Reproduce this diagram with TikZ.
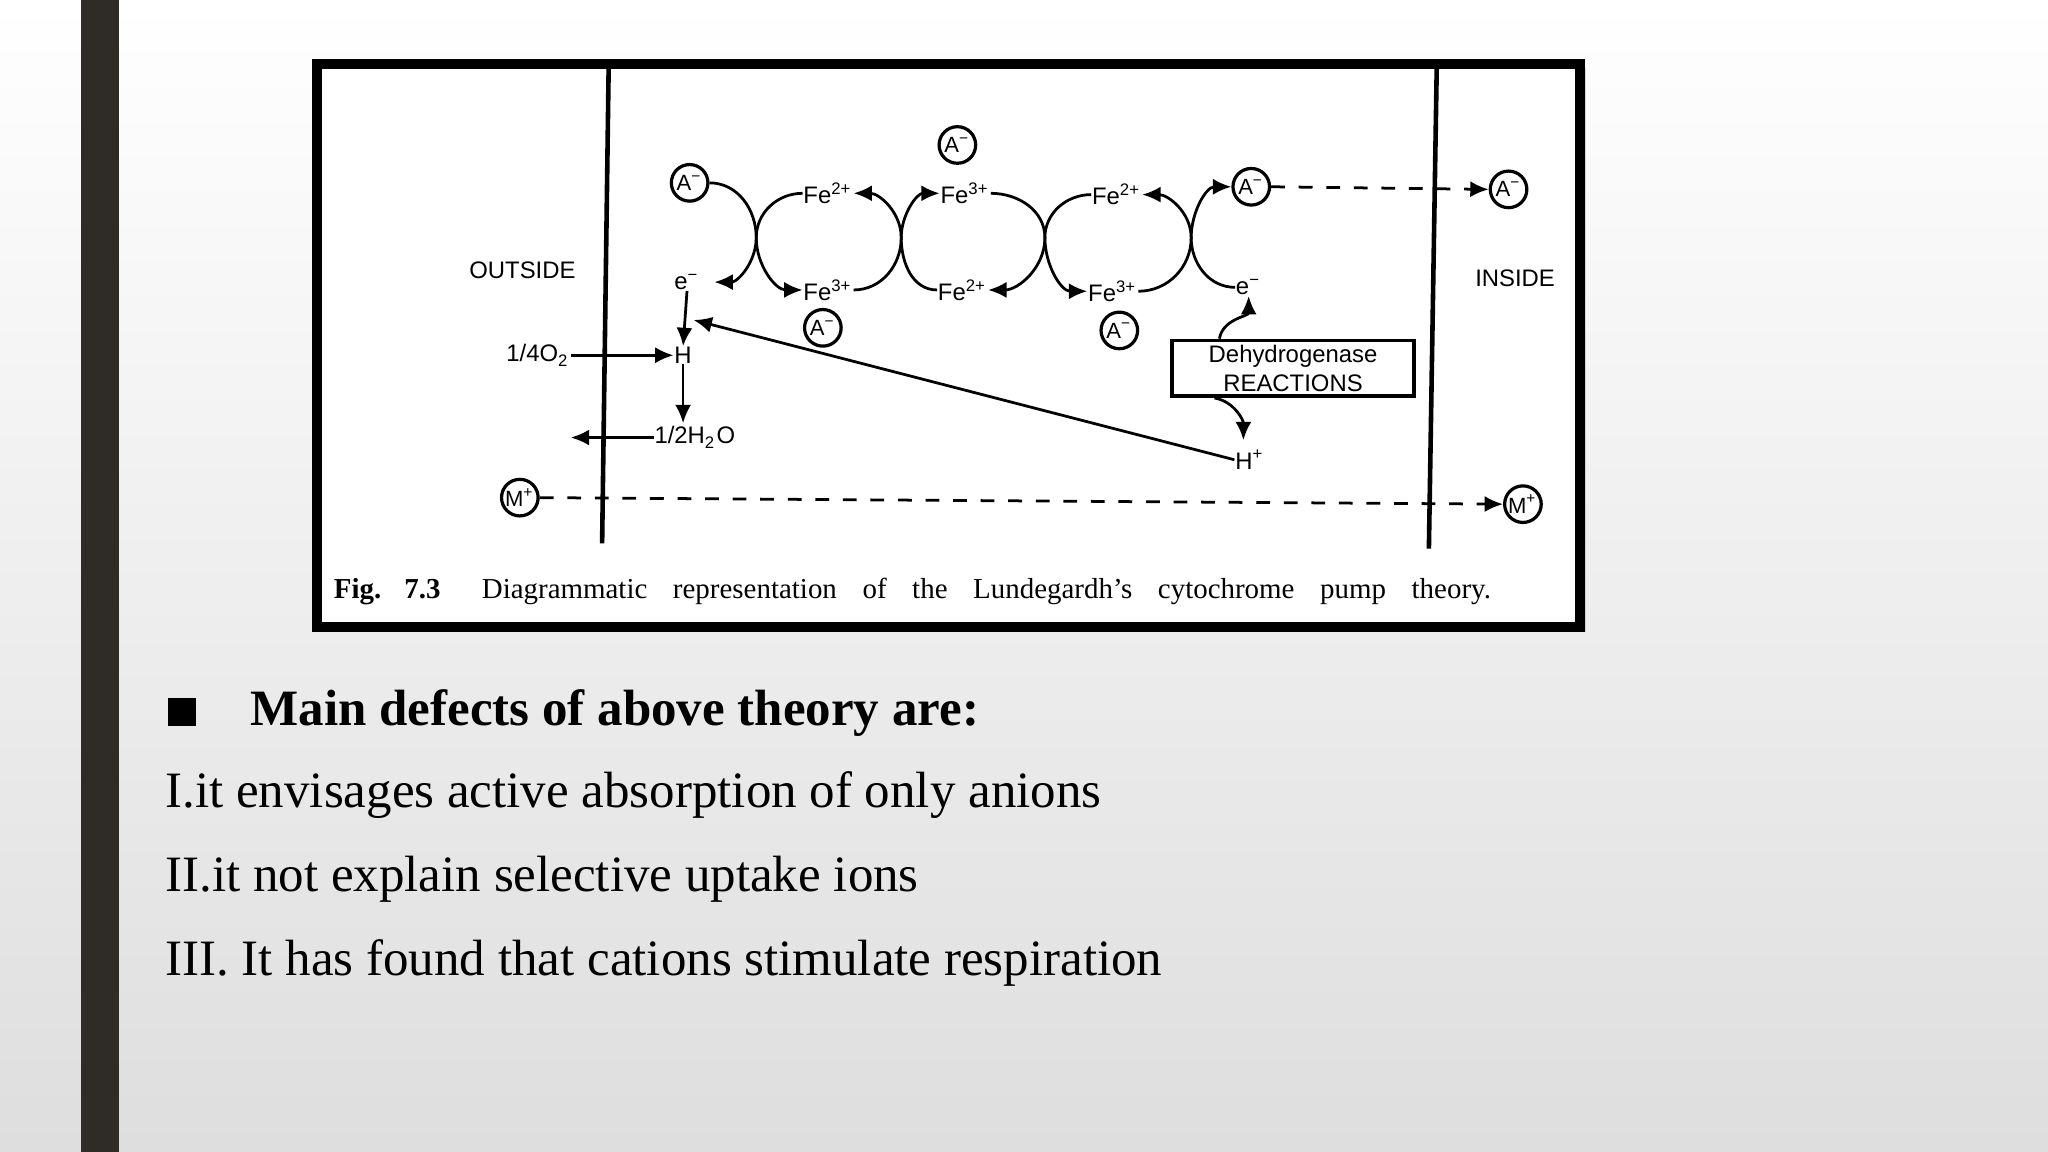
\documentclass[tikz,border=0pt]{standalone}
\usepackage{fontspec}
\setmainfont{Liberation Serif}
\newfontfamily\dsans{Liberation Sans}
\usetikzlibrary{arrows.meta,calc}
\newcommand{\mns}{\textsuperscript{\char"2212}}
\begin{document}
\begin{tikzpicture}[x=0.01cm,y=-0.01cm,
  lbl/.style={font=\dsans\fontsize{5.2}{5.6}\selectfont,inner sep=0pt},
  ion/.style={draw,circle,line width=0.7pt,inner sep=0pt,minimum size=0.28cm,font=\dsans\fontsize{4.8}{5}\selectfont},
  ln/.style={line width=0.6pt},
  arr/.style={ln,-{Latex[length=4pt,width=3.5pt]}},
  body/.style={font=\fontsize{11.1}{13}\selectfont,anchor=west,inner sep=0pt}]
\useasboundingbox (0,0) rectangle (1568,882);
\shade[top color=white,bottom color=black!13] (0,0) rectangle (1568,882);
\fill[black!88!olive] (62,0) rectangle (91,882);
% figure box
\fill[black!30,opacity=0.5] (246,52) rectangle (1214,484);
\draw[line width=2.2pt,fill=white] (243,49) rectangle (1210,480);
\draw[ln,line width=1pt] (466,52) -- (461,416);
\draw[ln,line width=1pt] (1100,52) -- (1094,420);
\node[lbl] (out) at (400,207) {OUTSIDE};
\node[lbl] (in) at (1160,213) {INSIDE};
% ions
\node[ion] (a1) at (528,140) {A\mns};
\node[ion] (a2) at (733,111) {A\mns};
\node[ion] (a3) at (630,251) {A\mns};
\node[ion] (a4) at (857,253) {A\mns};
\node[ion] (a5) at (958,143) {A\mns};
\node[ion] (a6) at (1155,145) {A\mns};
\node[ion] (m1) at (398,381) {M\textsuperscript{+}};
\node[ion] (m2) at (1166,386) {M\textsuperscript{+}};
% Fe labels
\node[lbl] (ft1) at (634,148) {Fe\textsuperscript{2+}};
\node[lbl] (ft2) at (739,148) {Fe\textsuperscript{3+}};
\node[lbl] (ft3) at (855,149) {Fe\textsuperscript{2+}};
\node[lbl] (fb1) at (634,222) {Fe\textsuperscript{3+}};
\node[lbl] (fb2) at (737,222) {Fe\textsuperscript{2+}};
\node[lbl] (fb3) at (852,223) {Fe\textsuperscript{3+}};
\node[lbl] (e1) at (526,216) {e\mns};
\node[lbl] (e2) at (956,220) {e\mns};
% crossings
\coordinate (c1) at (579,182);
\coordinate (c2) at (690,182);
\coordinate (c3) at (800,182);
\coordinate (c4) at (912,182);
\draw[arr] (a1.east) to[out=0,in=90] (c1) to[out=-90,in=180] (fb1.west);
\draw[arr] (ft1.west) to[out=180,in=90] (c1) to[out=-90,in=0] ([xshift=3pt]e1.east);
\draw[arr] (fb1.east) to[out=0,in=-90] (c2) to[out=90,in=0] (ft1.east);
\draw[arr] (fb2.west) to[out=180,in=-90] (c2) to[out=90,in=180] (ft2.west);
\draw[arr] (ft2.east) to[out=0,in=90] (c3) to[out=-90,in=0] (fb2.east);
\draw[arr] (ft3.west) to[out=180,in=90] (c3) to[out=-90,in=180] (fb3.west);
\draw[arr] (fb3.east) to[out=0,in=-90] (c4) to[out=90,in=0] (ft3.east);
\draw[arr] (e2.west) to[out=180,in=-90] (c4) to[out=90,in=180] (a5.west);
\draw[arr,dashed] (a5.east) -- (a6.west);
\draw[arr,dashed] (m1.east) -- (m2.west);
% left chain
\node[lbl] (h) at (523,272) {H};
\node[lbl] (o2) at (412,272) {1/4O\textsubscript{2}};
\node[lbl] (w) at (532,335) {1/2H\textsubscript{2}O};
\coordinate (wt) at (523,324);
\coordinate (wl) at (437,335);
\draw[arr] (e1.south) -- (h.north);
\draw[arr] (o2.east) -- (h.west);
\draw[arr] (h.south) -- (wt);
\draw[arr] (w.west) -- (wl);
% dehydrogenase
\node[draw,line width=0.8pt,lbl,font=\dsans\fontsize{5.2}{6.3}\selectfont,align=center,minimum width=1.85cm,minimum height=0.41cm,inner sep=1pt] (dh) at (990,282) {Dehydrogenase\\REACTIONS};
\node[lbl] (hp) at (957,352) {H\textsuperscript{+}};
\coordinate (hq) at (952,337);
\coordinate (ht) at (531,245);
\draw[arr] ($(dh.north west)!0.2!(dh.north east)$) to[out=80,in=-90] (e2.south);
\draw[arr] ($(dh.south west)!0.18!(dh.south east)$) to[out=-10,in=90] (hq);
\draw[arr] (hp.west) -- (ht);
% caption
\node[anchor=west,inner sep=0pt,font=\fontsize{6.3}{7}\selectfont] (cap) at (255,453) {\textbf{Fig.\hspace{5pt}7.3}\hspace{9pt}Diagrammatic \hspace{4pt}representation \hspace{4pt}of \hspace{4pt}the \hspace{4pt}Lundegardh's \hspace{4pt}cytochrome \hspace{4pt}pump \hspace{4pt}theory.};
% text
\node[body,font=\fontsize{11.1}{13}\selectfont\bfseries] (t0) at (128,546) {\rule{6pt}{6pt}\hspace{12pt}Main defects of above theory are:};
\node[body] (t1) at (126,609) {I.it envisages active absorption of only anions};
\node[body] (t2) at (126,673) {II.it not explain selective uptake ions};
\node[body] (t3) at (126,737) {III. It has found that cations stimulate respiration};
\end{tikzpicture}
\end{document}
